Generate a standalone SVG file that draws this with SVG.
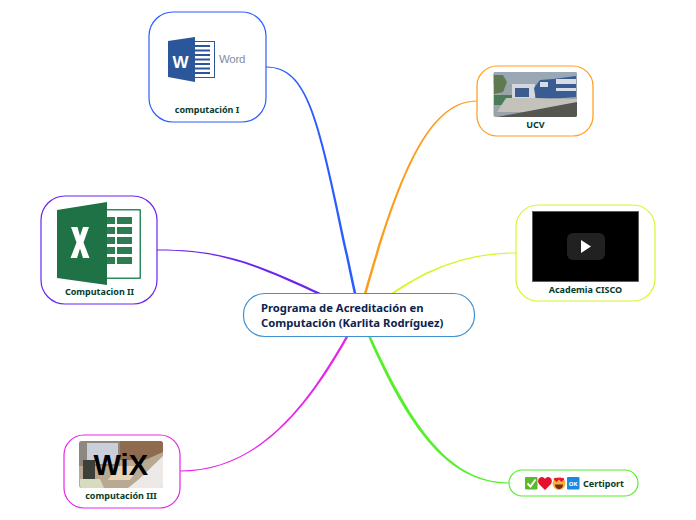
<svg xmlns="http://www.w3.org/2000/svg" width="696" height="520" viewBox="0 0 696 520">
<style>
text{font-family:"Noto Sans","DejaVu Sans",sans-serif;font-weight:700}
.l{font-size:9px;fill:#063c2c;text-anchor:middle}
.c{font-size:11.25px;fill:#0d2350}
.n{fill:#fff;stroke-width:1.2}
</style>
<rect width="696" height="520" fill="#fff"/>
<g id="connectors">
<path fill="#2a5cff" d="M266 66.400C313 66.400 321 130 356.400 294H353.800C319 130 311 67.600 266 67.600Z"/>
<path fill="#ff9b1a" d="M477 100.400C429 100.400 399 170 363.800 294H366.400C401 170 431 101.600 477 101.600Z"/>
<path fill="#6a25ee" d="M157 249.400C220 249.400 252 261 323 294L320 295.200C250 263 220 250.600 157 250.600Z"/>
<path fill="#d8f52a" d="M516 252.400C470 252.400 430 266 390 294H393.500C431 268 470 253.600 516 253.600Z"/>
<path fill="#e626e6" d="M180 470.400C250 470.400 299 420 346 336H348.800C301 421 250 471.600 180 471.600Z"/>
<path fill="#55f02a" d="M509 482.400C451 482.400 413 429 370.600 336H367.800C409 430 449 483.600 509 483.600Z"/>
</g>
<g id="central"><rect class="n" x="243.500" y="293.500" width="231" height="43" rx="21" stroke="#3f92d2"/>
<text class="c" x="261" y="312">Programa de Acreditación en</text><text class="c" x="261" y="327">Computación (Karlita Rodríguez)</text></g>
<g id="node-computacion-1"><rect class="n" x="149" y="12" width="117" height="110" rx="24" stroke="#2a5cff"/>
<rect x="194" y="41" width="21" height="37" fill="#2b579a"/><rect x="195" y="42" width="19" height="35" fill="#fff"/>
<path stroke="#2b579a" stroke-width="1.800" d="M194 46H210M194 50.500H210M194 55H210M194 59.500H210M194 64H210M194 68.500H210M194 73H210"/>
<path fill="#2b579a" d="M168 41L195 37V82L168 77Z"/>
<text x="172.500" y="68" font-size="17" style="fill:#fff;font-family:'Liberation Sans',sans-serif">W</text>
<text x="219" y="63" font-size="11.500" letter-spacing="-0.300" style="fill:#7d8ea5;font-weight:400;font-family:'Liberation Sans',sans-serif">Word</text>
<text class="l" x="207" y="113">computación I</text></g>
<g id="node-ucv"><rect class="n" x="477" y="66" width="116" height="70" rx="20" stroke="#ff9b1a"/>
<rect x="493.500" y="72" width="83.500" height="45" rx="2" fill="#9aa3a8"/>
<path fill="#9aa8b5" d="M493.500 74a2 2 0 0 1 2-2H575a2 2 0 0 1 2 2V84H493.500Z"/>
<path fill="#5f7a50" d="M494 75H503L507 82L503 92L494 94Z"/>
<path fill="#4d7a58" d="M494 95H512V105H494Z"/>
<rect x="512" y="84" width="23" height="15" fill="#d5d7dc"/><rect x="515" y="88" width="14" height="9" fill="#3c5c90"/>
<path fill="#395d92" d="M534 88L540 80L553 79L576 76V97L536 100Z"/><path fill="#d6dde6" d="M556 79H576V84H556ZM556 88H576V91H556ZM540 82H548V87H540Z"/>
<path fill="#c3c3bb" d="M506 98L535 98L577 99V103L525 112H497Z"/>
<path fill="#54564f" d="M497 117L577 102V115a2 2 0 0 1-2 2Z"/>
<text class="l" x="535.500" y="128">UCV</text></g>
<g id="node-computacion-2"><rect class="n" x="41" y="196" width="116" height="108" rx="24" stroke="#6a25ee"/>
<rect x="105" y="209" width="36" height="70" rx="1" fill="#2c8c5a"/><rect x="106.500" y="210.500" width="33" height="67" fill="#fff"/>
<path fill="#1f7246" d="M57 210L107 202V285L57 278Z"/>
<path fill="#2c7d52" d="M107 217H115V224H107ZM117 217H132V224H117ZM107 227H115V234H107ZM117 227H132V234H117ZM107 237H115V244H107ZM117 237H132V244H117ZM107 247H115V254H107ZM117 247H132V254H117ZM107 257H115V264H107ZM117 257H132V264H117Z"/>
<path fill="#fff" d="M71 227H77.500L80 236L83 227H89L83.500 242.500L89.500 258H83L80 248.500L77 258H70.500L76.500 242.500Z"/>
<text class="l" x="99.500" y="295">Computacion II</text></g>
<g id="node-computacion-3"><rect class="n" x="64" y="435" width="116" height="73" rx="20" stroke="#e626e6"/>
<rect x="79" y="441" width="84" height="47" rx="3" fill="#b9a892"/>
<path fill="#8c8780" d="M79 444a3 3 0 0 1 3-3H120V466H79Z"/>
<path fill="#c9ced8" d="M87 443H118V464H87Z"/>
<path fill="#8e6a4e" d="M120 441H160a3 3 0 0 1 3 3V452L145 460H120Z"/>
<path fill="#ece9e6" d="M138 480L163 456V485a3 3 0 0 1-3 3H128Z"/>
<path fill="#e7d4b8" d="M118 466H140L130 480H108Z"/>
<path fill="#3c4038" d="M83 460H95V483H83Z"/><path fill="#d7dcc0" d="M80 479H100L104 488H82a3 3 0 0 1-2-3Z"/>
<text x="93.500" y="475" font-size="29" style="fill:#000;font-family:'Liberation Sans',sans-serif;font-weight:700">WiX</text>
<text class="l" x="121" y="499">computación III</text></g>
<g id="node-cisco"><rect class="n" x="516" y="205" width="139" height="96" rx="22" stroke="#d8f52a"/>
<rect x="532.500" y="211.500" width="106" height="70" fill="#000" stroke="#555" stroke-width="0.800"/>
<rect x="567" y="233" width="38" height="27" rx="6" fill="#212121"/>
<path fill="#fff" d="M581 240L591 246.500L581 253Z"/>
<text class="l" x="585.500" y="293">Academia CISCO</text></g>
<g id="node-certiport"><rect class="n" x="509" y="470" width="129" height="26" rx="13" stroke="#55f02a"/>
<rect x="525" y="477" width="12.500" height="12.500" rx="1" fill="#5cb82c"/>
<path fill="none" stroke="#fff" stroke-width="1.800" d="M527.500 483.500L530.500 486.500L535.500 479.500"/>
<path fill="#e8112d" d="M545 490L539 484C537 481 538.500 477 542 477C543.500 477 544.500 478 545 479C545.500 478 546.500 477 548 477C551.500 477 553 481 551 484Z"/>
<circle cx="559" cy="483.500" r="6.500" fill="#f7b03c"/>
<path fill="#e8112d" d="M556.500 482L554 479.500C553.500 478 555.500 477 556.500 478.500C557.500 477 559.500 478 559 479.500ZM561.500 482L559 479.500C558.500 478 560.500 477 561.500 478.500C562.500 477 564.500 478 564 479.500Z"/>
<path fill="#7a2b10" d="M555 484.500H563C563 488 560.500 489 559 489C557.500 489 555 488 555 484.500Z"/>
<rect x="567" y="477" width="12.500" height="12.500" rx="1" fill="#1a8ae0"/>
<text x="573.200" y="486" font-size="6" text-anchor="middle" style="fill:#fff">OK</text>
<text x="583" y="486.500" font-size="9" style="fill:#063c2c">Certiport</text></g>
</svg>
